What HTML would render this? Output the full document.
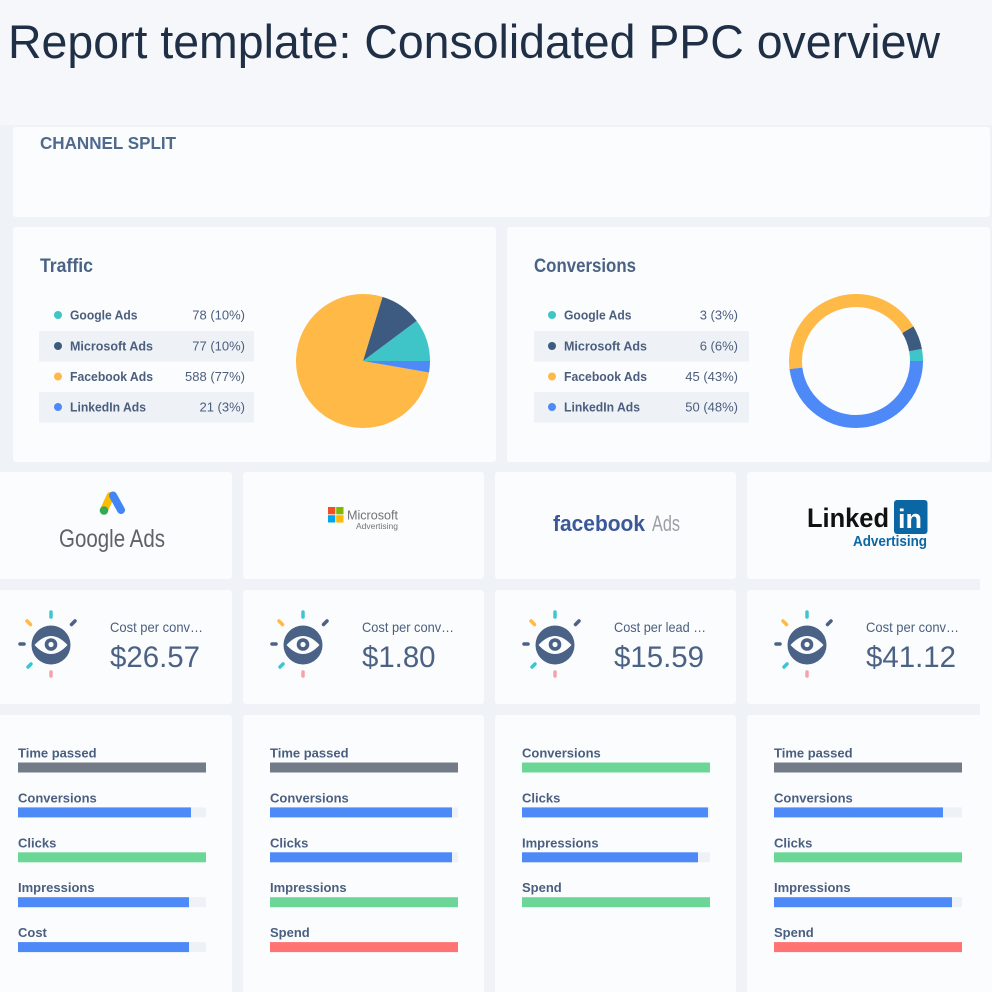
<!DOCTYPE html>
<html><head><meta charset="utf-8"><style>
html,body{margin:0;padding:0;background:#eff2f6;}
svg{display:block;font-family:"Liberation Sans",Arial,sans-serif;}
</style></head><body>
<svg width="992" height="992" viewBox="0 0 992 992" xmlns="http://www.w3.org/2000/svg">
<defs>
<g id="eye">
<line x1="0" y1="-33" x2="0" y2="-28" stroke="#3fc5d0" stroke-width="3.5" stroke-linecap="round"/>
<line x1="-24" y1="-24" x2="-20.5" y2="-20.5" stroke="#ffb946" stroke-width="3.5" stroke-linecap="round"/>
<line x1="24" y1="-24" x2="20.5" y2="-20.5" stroke="#4a6285" stroke-width="3.5" stroke-linecap="round"/>
<line x1="-31" y1="-1" x2="-27" y2="-1" stroke="#4a6285" stroke-width="3.5" stroke-linecap="round"/>
<line x1="-23" y1="22" x2="-20" y2="19" stroke="#3fc5d0" stroke-width="3.5" stroke-linecap="round"/>
<line x1="0" y1="27" x2="0" y2="31" stroke="#f7a1a8" stroke-width="3.5" stroke-linecap="round"/>
<circle cx="0" cy="0" r="19.5" fill="#4a6285"/>
<path d="M-16.5,0 Q0,-18 16.5,0 Q0,18 -16.5,0 Z" fill="#fbfcfd"/>
<circle cx="0" cy="-0.5" r="6.3" fill="#4a6285"/>
<circle cx="0" cy="-0.5" r="2.6" fill="#fbfcfd"/>
</g>
</defs>

<rect width="992" height="992" fill="#eff2f6"/>
<rect width="992" height="125" fill="#f5f7fa"/>

<text x="8" y="58" font-size="47" fill="#1f2f46" textLength="932" lengthAdjust="spacingAndGlyphs">Report template: Consolidated PPC overview</text>

<!-- Channel split -->
<rect x="13" y="127" width="977" height="90" rx="3" fill="#fbfcfd"/>
<text x="40" y="149" font-size="17.5" font-weight="bold" fill="#4f6a8d" textLength="136" lengthAdjust="spacingAndGlyphs">CHANNEL SPLIT</text>

<!-- Traffic card -->
<rect x="13" y="227" width="483" height="235" rx="3" fill="#fbfcfd"/>
<text x="40" y="272" font-size="19" font-weight="bold" fill="#4a6283" textLength="53" lengthAdjust="spacingAndGlyphs">Traffic</text>
<rect x="39" y="331" width="215" height="30.5" fill="#eef2f7"/>
<rect x="39" y="392" width="215" height="30.5" fill="#eef2f7"/>
<g font-size="13" fill="#4b5e7d">
<circle cx="58" cy="315" r="4" fill="#3fc5c8"/>
<text x="70" y="319.5" font-weight="bold" textLength="67.5" lengthAdjust="spacingAndGlyphs">Google Ads</text>
<text x="245" y="319.5" text-anchor="end">78 (10%)</text>
<circle cx="58" cy="346" r="4" fill="#3d5a80"/>
<text x="70" y="350.5" font-weight="bold" textLength="83" lengthAdjust="spacingAndGlyphs">Microsoft Ads</text>
<text x="245" y="350.5" text-anchor="end">77 (10%)</text>
<circle cx="58" cy="376.5" r="4" fill="#ffb946"/>
<text x="70" y="381" font-weight="bold" textLength="83" lengthAdjust="spacingAndGlyphs">Facebook Ads</text>
<text x="245" y="381" text-anchor="end">588 (77%)</text>
<circle cx="58" cy="407" r="4" fill="#4d8af8"/>
<text x="70" y="411.5" font-weight="bold" textLength="76" lengthAdjust="spacingAndGlyphs">LinkedIn Ads</text>
<text x="245" y="411.5" text-anchor="end">21 (3%)</text>
</g>
<!-- Pie -->
<path d="M363,361 L430,361 A67,67 0 0 0 416.68,320.91 Z" fill="#3fc5c8"/>
<path d="M363,361 L416.68,320.91 A67,67 0 0 0 382.54,296.91 Z" fill="#3d5a80"/>
<path d="M363,361 L382.54,296.91 A67,67 0 1 0 429.00,372.52 Z" fill="#ffb946"/>
<path d="M363,361 L429.00,372.52 A67,67 0 0 0 430,361 Z" fill="#4d8af8"/>

<!-- Conversions card -->
<rect x="507" y="227" width="483" height="235" rx="3" fill="#fbfcfd"/>
<text x="534" y="272" font-size="19" font-weight="bold" fill="#4a6283" textLength="102" lengthAdjust="spacingAndGlyphs">Conversions</text>
<rect x="534" y="331" width="215" height="30.5" fill="#eef2f7"/>
<rect x="534" y="392" width="215" height="30.5" fill="#eef2f7"/>
<g font-size="13" fill="#4b5e7d">
<circle cx="552" cy="315" r="4" fill="#3fc5c8"/>
<text x="564" y="319.5" font-weight="bold" textLength="67.5" lengthAdjust="spacingAndGlyphs">Google Ads</text>
<text x="738" y="319.5" text-anchor="end">3 (3%)</text>
<circle cx="552" cy="346" r="4" fill="#3d5a80"/>
<text x="564" y="350.5" font-weight="bold" textLength="83" lengthAdjust="spacingAndGlyphs">Microsoft Ads</text>
<text x="738" y="350.5" text-anchor="end">6 (6%)</text>
<circle cx="552" cy="376.5" r="4" fill="#ffb946"/>
<text x="564" y="381" font-weight="bold" textLength="83" lengthAdjust="spacingAndGlyphs">Facebook Ads</text>
<text x="738" y="381" text-anchor="end">45 (43%)</text>
<circle cx="552" cy="407" r="4" fill="#4d8af8"/>
<text x="564" y="411.5" font-weight="bold" textLength="76" lengthAdjust="spacingAndGlyphs">LinkedIn Ads</text>
<text x="738" y="411.5" text-anchor="end">50 (48%)</text>
</g>
<!-- Donut -->
<g transform="translate(856,361) scale(1,-1)" fill="none" stroke-width="13">
<circle r="60.5" stroke="#3fc5c8" stroke-dasharray="10.97 400" stroke-dashoffset="0"/>
<circle r="60.5" stroke="#3d5a80" stroke-dasharray="21.93 400" stroke-dashoffset="-10.97"/>
<circle r="60.5" stroke="#ffb946" stroke-dasharray="164.48 400" stroke-dashoffset="-32.90"/>
<circle r="60.5" stroke="#4d8af8" stroke-dasharray="182.75 400" stroke-dashoffset="-197.38"/>
</g>

<!-- Logo row -->
<rect x="-9" y="472" width="241" height="107" rx="3" fill="#fbfcfd"/>
<rect x="243" y="472" width="241" height="107" rx="3" fill="#fbfcfd"/>
<rect x="495" y="472" width="241" height="107" rx="3" fill="#fbfcfd"/>
<rect x="747" y="472" width="245" height="107" rx="3" fill="#fbfcfd"/>
<rect x="980" y="472" width="12" height="520" fill="#fbfcfd"/>

<!-- Google Ads logo -->
<line x1="110.5" y1="496" x2="104" y2="510" stroke="#fbbc04" stroke-width="8" stroke-linecap="round"/>
<line x1="113" y1="495.5" x2="121" y2="510" stroke="#4285f4" stroke-width="8" stroke-linecap="round"/>
<circle cx="104" cy="510.5" r="4.3" fill="#34a853"/>
<text x="59" y="547" font-size="25" fill="#5f6368" textLength="106" lengthAdjust="spacingAndGlyphs">Google Ads</text>

<!-- Microsoft -->
<rect x="328" y="507" width="7.3" height="7.3" fill="#f25022"/>
<rect x="336.2" y="507" width="7.3" height="7.3" fill="#7fba00"/>
<rect x="328" y="515.2" width="7.3" height="7.3" fill="#00a4ef"/>
<rect x="336.2" y="515.2" width="7.3" height="7.3" fill="#ffb900"/>
<text x="347" y="519.5" font-size="13" fill="#737373" textLength="51" lengthAdjust="spacingAndGlyphs">Microsoft</text>
<text x="356" y="529" font-size="8.5" fill="#737373" textLength="42" lengthAdjust="spacingAndGlyphs">Advertising</text>

<!-- Facebook -->
<text x="553" y="531" font-size="22" font-weight="bold" fill="#3b5998" textLength="92" lengthAdjust="spacingAndGlyphs">facebook</text>
<text x="652" y="531" font-size="22" fill="#9aa0a6" textLength="28" lengthAdjust="spacingAndGlyphs">Ads</text>

<!-- LinkedIn -->
<text x="807" y="527" font-size="27" font-weight="bold" fill="#111111" textLength="82" lengthAdjust="spacingAndGlyphs">Linked</text>
<rect x="894" y="500" width="33.5" height="34" rx="3" fill="#0b66a4"/>
<text x="898" y="528" font-size="27" font-weight="bold" fill="#ffffff" textLength="24" lengthAdjust="spacingAndGlyphs">in</text>
<text x="853" y="546" font-size="14.5" font-weight="bold" fill="#0b66a4" textLength="74" lengthAdjust="spacingAndGlyphs">Advertising</text>

<!-- Stat row -->
<rect x="-9" y="590" width="241" height="114" rx="3" fill="#fbfcfd"/>
<rect x="243" y="590" width="241" height="114" rx="3" fill="#fbfcfd"/>
<rect x="495" y="590" width="241" height="114" rx="3" fill="#fbfcfd"/>
<rect x="747" y="590" width="245" height="114" rx="3" fill="#fbfcfd"/>

<use href="#eye" x="51" y="645"/>
<use href="#eye" x="303" y="645"/>
<use href="#eye" x="555" y="645"/>
<use href="#eye" x="807" y="645"/>

<g fill="#4a5f80">
<text x="110" y="632" font-size="14" textLength="93" lengthAdjust="spacingAndGlyphs">Cost per conv…</text>
<text x="362" y="632" font-size="14" textLength="92" lengthAdjust="spacingAndGlyphs">Cost per conv…</text>
<text x="614" y="632" font-size="14" textLength="92" lengthAdjust="spacingAndGlyphs">Cost per lead …</text>
<text x="866" y="632" font-size="14" textLength="93" lengthAdjust="spacingAndGlyphs">Cost per conv…</text>
</g>
<g fill="#4b6285" font-size="30">
<text x="110" y="667" textLength="90" lengthAdjust="spacingAndGlyphs">$26.57</text>
<text x="362" y="667" textLength="73.5" lengthAdjust="spacingAndGlyphs">$1.80</text>
<text x="614" y="667" textLength="90" lengthAdjust="spacingAndGlyphs">$15.59</text>
<text x="866" y="667" textLength="90" lengthAdjust="spacingAndGlyphs">$41.12</text>
</g>

<!-- Bars row -->
<rect x="-9" y="715" width="241" height="290" rx="3" fill="#fbfcfd"/>
<rect x="243" y="715" width="241" height="290" rx="3" fill="#fbfcfd"/>
<rect x="495" y="715" width="241" height="290" rx="3" fill="#fbfcfd"/>
<rect x="747" y="715" width="245" height="290" rx="3" fill="#fbfcfd"/>

<g font-size="13" font-weight="bold" fill="#4a5f80">
<!-- card 1 -->
<text x="18" y="757.5">Time passed</text>
<rect x="18" y="762.5" width="188" height="10" fill="#737b88"/>
<text x="18" y="802.4">Conversions</text>
<rect x="18" y="807.4" width="188" height="10" fill="#eef2f6"/>
<rect x="18" y="807.4" width="173" height="10" fill="#4d8af8"/>
<text x="18" y="847.3">Clicks</text>
<rect x="18" y="852.3" width="188" height="10" fill="#6cd696"/>
<text x="18" y="892.2">Impressions</text>
<rect x="18" y="897.2" width="188" height="10" fill="#eef2f6"/>
<rect x="18" y="897.2" width="171" height="10" fill="#4d8af8"/>
<text x="18" y="937.1">Cost</text>
<rect x="18" y="942.1" width="188" height="10" fill="#eef2f6"/>
<rect x="18" y="942.1" width="171" height="10" fill="#4d8af8"/>

<!-- card 2 -->
<text x="270" y="757.5">Time passed</text>
<rect x="270" y="762.5" width="188" height="10" fill="#737b88"/>
<text x="270" y="802.4">Conversions</text>
<rect x="270" y="807.4" width="188" height="10" fill="#eef2f6"/>
<rect x="270" y="807.4" width="182" height="10" fill="#4d8af8"/>
<text x="270" y="847.3">Clicks</text>
<rect x="270" y="852.3" width="188" height="10" fill="#eef2f6"/>
<rect x="270" y="852.3" width="182" height="10" fill="#4d8af8"/>
<text x="270" y="892.2">Impressions</text>
<rect x="270" y="897.2" width="188" height="10" fill="#6cd696"/>
<text x="270" y="937.1">Spend</text>
<rect x="270" y="942.1" width="188" height="10" fill="#ff7373"/>

<!-- card 3 -->
<text x="522" y="757.5">Conversions</text>
<rect x="522" y="762.5" width="188" height="10" fill="#6cd696"/>
<text x="522" y="802.4">Clicks</text>
<rect x="522" y="807.4" width="188" height="10" fill="#eef2f6"/>
<rect x="522" y="807.4" width="186" height="10" fill="#4d8af8"/>
<text x="522" y="847.3">Impressions</text>
<rect x="522" y="852.3" width="188" height="10" fill="#eef2f6"/>
<rect x="522" y="852.3" width="176" height="10" fill="#4d8af8"/>
<text x="522" y="892.2">Spend</text>
<rect x="522" y="897.2" width="188" height="10" fill="#6cd696"/>

<!-- card 4 -->
<text x="774" y="757.5">Time passed</text>
<rect x="774" y="762.5" width="188" height="10" fill="#737b88"/>
<text x="774" y="802.4">Conversions</text>
<rect x="774" y="807.4" width="188" height="10" fill="#eef2f6"/>
<rect x="774" y="807.4" width="169" height="10" fill="#4d8af8"/>
<text x="774" y="847.3">Clicks</text>
<rect x="774" y="852.3" width="188" height="10" fill="#6cd696"/>
<text x="774" y="892.2">Impressions</text>
<rect x="774" y="897.2" width="188" height="10" fill="#eef2f6"/>
<rect x="774" y="897.2" width="178" height="10" fill="#4d8af8"/>
<text x="774" y="937.1">Spend</text>
<rect x="774" y="942.1" width="188" height="10" fill="#ff7373"/>
</g>
</svg>
</body></html>
